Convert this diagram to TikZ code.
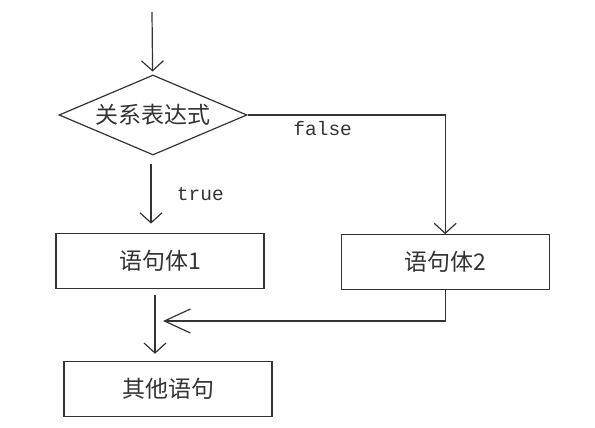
\documentclass[tikz,border=0pt]{standalone}
\usepackage{fontspec}
\setmonofont{Liberation Mono}
\newfontfamily\cjk{Noto Sans CJK SC}
\usetikzlibrary{arrows.meta,positioning,shapes.geometric}

\begin{document}
\begin{tikzpicture}[
    x=1pt, y=1pt,
    >={Straight Barb[length=10pt,width=22pt]},
    font=\cjk\fontsize{23}{26}\selectfont,
    line width=1.2pt,
    color=black!80,
    decision/.style={
		diamond,
		draw,
		aspect=2.35,
		minimum width=188pt,
		minimum height=80pt,
		inner sep=0pt
	},
    block/.style={
		rectangle,
		draw,
		minimum width=208pt,
		minimum height=55pt,
		fill=white
	},
	branch/.style={
		font=\ttfamily\fontsize{19.5}{22}\selectfont
	}
  ]
  \useasboundingbox (0,0) rectangle (595,-428);

  % the condition first, the statements hang below it
  \node [decision] (cond) at (153,-115) {关系表达式};
  \node [block, below=77pt of cond, xshift=7pt] (body1) {语句体1};
  \node [block, right=76pt of body1, yshift=-1.5pt] (body2) {语句体2};
  \node [block, below=72pt of body1, xshift=8pt] (other) {其他语句};

  \coordinate (start) at (152,-12);
  \coordinate (join) at (163,-321);

  \draw [->, shorten >=3pt] (start) -- (cond);
  \draw [->, shorten <=8pt, shorten >=9pt] ([xshift=-2pt]cond.south) -- node [branch, right, xshift=22pt] {true} ([xshift=-2pt]cond.south |- body1.north);
  \draw [->] (cond.east) -| node [branch, pos=0.19, below, yshift=-2pt] {false} (body2.north);
  \draw [-{Straight Barb[length=26pt,width=24pt]}] (body2.south) |- (join);
  \draw [->, shorten <=6pt, shorten >=7pt] ([xshift=-5pt]body1.south) -- ([xshift=-5pt]body1.south |- other.north);

\end{tikzpicture}
\end{document}
